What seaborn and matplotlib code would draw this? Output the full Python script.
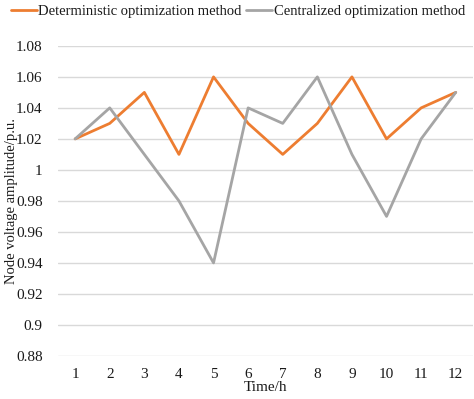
import matplotlib
matplotlib.use("Agg")
import pandas as pd
import seaborn as sns
import matplotlib.pyplot as plt

sns.set_theme(style="whitegrid")
plt.rcParams["font.family"] = ["Liberation Serif", "DejaVu Serif"]

# Data
hours = [1, 2, 3, 4, 5, 6, 7, 8, 9, 10, 11, 12]
deterministic = [1.02, 1.03, 1.05, 1.01, 1.06, 1.03, 1.01, 1.03, 1.06, 1.02, 1.04, 1.05]
centralized = [1.02, 1.04, 1.01, 0.98, 0.94, 1.04, 1.03, 1.06, 1.01, 0.97, 1.02, 1.05]
y_ticks = [0.88, 0.9, 0.92, 0.94, 0.96, 0.98, 1.0, 1.02, 1.04, 1.06, 1.08]
y_labels = ["0.88", "0.9", "0.92", "0.94", "0.96", "0.98", "1", "1.02", "1.04", "1.06", "1.08"]

df = pd.DataFrame({
    "hour": hours * 2,
    "voltage": deterministic + centralized,
    "method": ["Deterministic optimization method"] * 12 + ["Centralized optimization method"] * 12,
})

fig = plt.figure(figsize=(4.74, 3.99), dpi=100)
ax = fig.add_axes([0.122, 0.108, 0.876, 0.777])

sns.lineplot(
    data=df, x="hour", y="voltage", hue="method",
    palette=["#ED7D31", "#A5A5A5"], linewidth=2, ax=ax,
)

ax.set_xlim(0.5, 12.5)
ax.set_ylim(0.88, 1.08)
ax.set_xticks(hours)
ax.set_xticklabels([str(h) for h in hours])
ax.set_yticks(y_ticks)
ax.set_yticklabels(y_labels)
ax.tick_params(axis="both", labelsize=11, length=0, colors="#1a1a1a")
ax.tick_params(axis="y", pad=11)
ax.tick_params(axis="x", pad=9)
ax.grid(axis="x", visible=False)
ax.grid(axis="y", color="#D9D9D9", linewidth=1)
for s in ax.spines.values():
    s.set_visible(False)

ax.set_xlabel("Time/h", fontsize=11, labelpad=0, color="#1a1a1a")
ax.set_ylabel("Node voltage amplitude/p.u.", fontsize=10.5, color="#1a1a1a")
ax.yaxis.set_label_coords(-0.097, 0.5)

handles, labels = ax.get_legend_handles_labels()
ax.get_legend().remove()
fig.legend(
    handles, labels, loc="center", bbox_to_anchor=(0.502, 0.972), ncol=2, frameon=False,
    fontsize=10.5, handlelength=1.8, handletextpad=0.1, columnspacing=0.3,
    labelcolor="#1a1a1a",
)

fig.savefig("out.png", dpi=100)
